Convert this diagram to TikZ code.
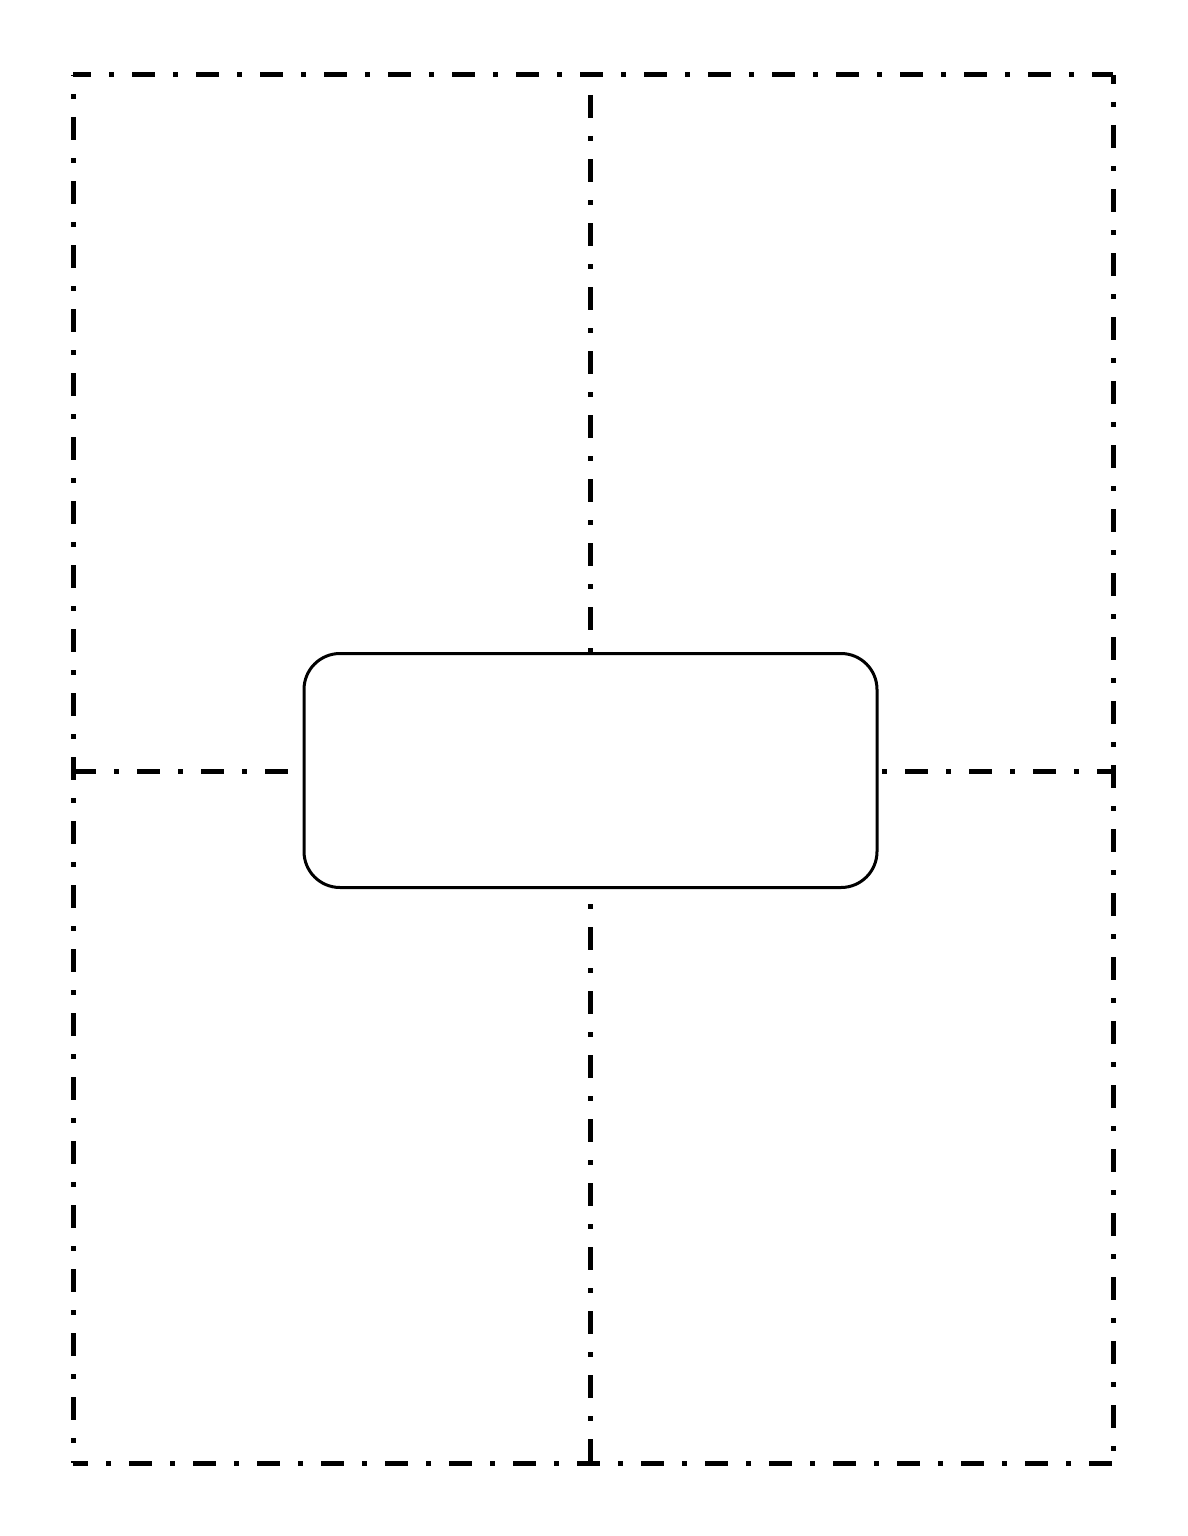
\documentclass[tikz,border=0pt]{standalone}
\begin{document}
\begin{tikzpicture}[x=1pt,y=-1pt,
  frameline/.style={line width=5pt, dash pattern=on 23pt off 18pt on 5pt off 18pt},
  centerbox/.style={draw, line width=3pt, fill=white, rounded corners=36pt,
    minimum width=573pt, minimum height=234pt, inner sep=0pt, outer sep=0pt}]
\useasboundingbox (0,0) rectangle (1187,1536);
\coordinate (tl) at (73,75);
\coordinate (tr) at (1113,75);
\coordinate (bl) at (73,1463);
\coordinate (br) at (1113,1463);
\coordinate (ml) at (73,771);
\coordinate (mr) at (1113,771);
\coordinate (mt) at (590,95);
\coordinate (mb) at (590,1463);
% outer frame
\draw[frameline, dash phase=5pt] (tl) -- (tr);
\draw[frameline, dash phase=8pt] (bl) -- (br);
\draw[frameline, dash phase=22pt] (tl) -- (bl);
\draw[frameline, dash phase=14pt] (tr) -- (br);
% centre lines
\draw[frameline] (ml) -- (mr);
\draw[frameline] (mt) -- (mb);
% centre box
\node[centerbox] (box) at (590.5,770.5) {};
\end{tikzpicture}
\end{document}
